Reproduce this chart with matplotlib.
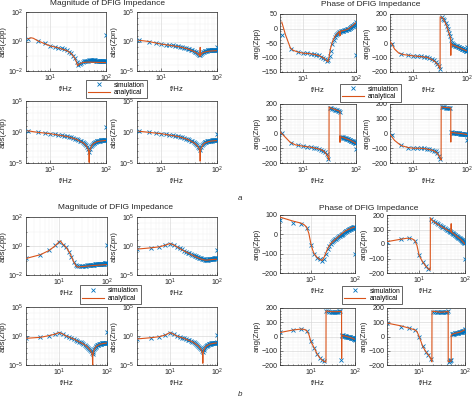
import numpy as np
import matplotlib
matplotlib.use("Agg")
import matplotlib.pyplot as plt
from matplotlib.lines import Line2D
from matplotlib.ticker import LogLocator, NullFormatter, AutoMinorLocator

plt.rcParams['font.family'] = ['Liberation Sans', 'DejaVu Sans']
plt.rcParams['mathtext.fontset'] = 'custom'
plt.rcParams['mathtext.rm'] = 'Liberation Sans'
plt.rcParams['mathtext.it'] = 'Liberation Sans:italic'
plt.rcParams['mathtext.default'] = 'regular'

# ---------------- frequency grids (Hz) ----------------
f_a = [4, 6, 8, 10, 12, 14, 16, 18, 20, 22,
       24, 26, 28, 30, 32, 34, 36, 38, 40, 42,
       44, 46, 48, 50, 52, 54, 56, 58, 60, 62,
       64, 66, 68, 70, 72, 74, 76, 78, 80, 82,
       84, 86, 88, 90, 92, 94, 96, 98, 100]
f_b = [2, 4, 6, 8, 10, 12, 14, 16, 18, 20,
       22, 24, 26, 28, 30, 32, 34, 36, 38, 40,
       42, 44, 46, 48, 50, 52, 54, 56, 58, 60,
       62, 64, 66, 68, 70, 72, 74, 76, 78, 80,
       82, 84, 86, 88, 90, 92, 94, 96, 98, 100]

# ---------------- case a: magnitude (log10 of |Z|) ----------------
a_mag_zpp_sim = [0.19, 0.05, -0.12, -0.28, -0.35, -0.41, -0.47, -0.53, -0.6, -0.69,
                 -0.8, -0.95, -1.15, -1.42, -1.6, -1.5, -1.43, -1.38, -1.35, -1.33,
                 -1.31, -1.3, -1.29, -1.28, -1.28, -1.27, -1.27, -1.27, -1.28, -1.28,
                 -1.28, -1.29, -1.29, -1.29, -1.3, -1.3, -1.3, -1.31, -1.31, -1.31,
                 -1.32, -1.32, -1.32, -1.33, -1.33, -1.33, -1.34, -1.34, 0.46]
a_mag_zpp_ana_f = [4, 4.6, 5, 6, 8, 10, 14, 20, 24, 28, 30, 31, 32, 34, 38, 45, 50, 60, 80, 100]
a_mag_zpp_ana = [0.19, 0.25, 0.22, 0.05, -0.15, -0.3, -0.43, -0.62, -0.82, -1.17,
                 -1.45, -1.65, -1.58, -1.5, -1.43, -1.4, -1.4, -1.41, -1.42, -1.43]

a_mag_zpn_sim = [0.17, 0.0, -0.25, -0.44, -0.52, -0.6, -0.67, -0.75, -0.83, -0.9,
                 -0.97, -1.05, -1.13, -1.22, -1.3, -1.4, -1.5, -1.6, -1.7, -1.82,
                 -1.95, -2.1, -2.25, -2.3, -2.05, -1.9, -1.8, -1.72, -1.66, -1.62,
                 -1.58, -1.55, -1.52, -1.5, -1.48, -1.46, -1.45, -1.44, -1.43, -1.42,
                 -1.41, -1.4, -1.4, -1.39, -1.38, -1.38, -1.37, -1.37, -1.0]
a_mag_notch_f = [4, 5, 6, 10, 20, 30, 40, 45, 48, 49.5, 50, 50.5, 52, 56, 60, 70, 80, 100]
a_mag_zpn_ana = [0.2, 0.1, 0.0, -0.44, -0.85, -1.25, -1.75, -2.05, -2.3, -2.5,
                 -1.0, -2.4, -2.15, -1.9, -1.8, -1.65, -1.6, -1.55]

a_mag_znp_sim = [0.16, -0.05, -0.17, -0.27, -0.35, -0.43, -0.52, -0.6, -0.7, -0.78,
                 -0.87, -0.97, -1.07, -1.18, -1.29, -1.4, -1.52, -1.64, -1.78, -1.95,
                 -2.15, -2.4, -2.75, -3.2, -2.7, -2.3, -2.05, -1.9, -1.78, -1.7,
                 -1.63, -1.57, -1.52, -1.48, -1.45, -1.42, -1.4, -1.38, -1.36, -1.34,
                 -1.33, -1.31, -1.3, -1.29, -1.28, -1.27, -1.26, -1.25, 0.8]
a_mag_znp_ana = [0.2, 0.05, -0.05, -0.27, -0.72, -1.2, -1.82, -2.3, -2.8, -3.5,
                 -4.9, -3.4, -2.8, -2.15, -1.85, -1.55, -1.45, -1.35]

a_mag_znn_sim = [0.1, -0.05, -0.17, -0.27, -0.35, -0.43, -0.52, -0.6, -0.7, -0.78,
                 -0.87, -0.97, -1.07, -1.18, -1.29, -1.4, -1.52, -1.64, -1.78, -1.93,
                 -2.1, -2.35, -2.6, -2.9, -2.4, -2.1, -1.9, -1.78, -1.68, -1.62,
                 -1.57, -1.53, -1.5, -1.47, -1.45, -1.43, -1.41, -1.39, -1.38, -1.37,
                 -1.36, -1.35, -1.34, -1.33, -1.32, -1.31, -1.3, -1.3, -0.27]
a_mag_znn_ana = [0.12, 0.03, -0.05, -0.27, -0.72, -1.2, -1.82, -2.25, -2.65, -3.3,
                 -4.7, -3.2, -2.6, -2.05, -1.8, -1.55, -1.45, -1.38]

# ---------------- case a: phase (deg) ----------------
a_ph_zpp_sim = [-21, -71, -81, -85, -86, -87, -88, -91, -93, -97,
                -100, -105, -112, -110, -95, -78, -55, -40, -28, -22,
                -18, -15, -13, -11, -10, -9, -8, -7, -6, -6,
                -5, -4, -3, -2, -1, 0, 2, 3, 5, 6,
                8, 9, 10, 12, 13, 15, 17, 24, -91]
a_ph_zpp_ana_f = [4, 4.7, 5.8, 6.5, 8, 10, 14, 18, 22, 26, 28, 29.5, 31, 33, 36, 40, 46,
                  49.5, 50, 50.5, 56, 64, 72, 84, 100]
a_ph_zpp_ana = [22, -22, -67, -75, -81, -85, -87, -91, -97, -105, -111, -115, -100, -70, -45,
                -27, -15, -10, -25, -9, -8, -5, -1, 8, 20]

a_ph_zpn_sim = [-10, -75, -84, -89, -91, -93, -96, -99, -104, -111,
                -120, -130, -145, -160, -176, 178, 168, 160, 140, 118,
                95, 70, 48, 20, -3, -8, -12, -15, -18, -20,
                -22, -24, -26, -28, -30, -32, -34, -36, -38, -40,
                -42, -44, -46, -48, -50, -52, -54, -56, -30]
a_ph_zpn_ana_f = [3.7, 4, 4.5, 5.4, 6.6, 10, 14, 18, 20, 22, 24, 26, 28, 30, 31.6, 31.7, 34,
                  36.5, 42, 45, 48.7, 49.8, 50, 50.2, 52, 60, 70, 80, 100]
a_ph_zpn_ana = [8, -5, -42, -70, -80, -89, -94, -99, -106, -113, -122, -132, -146, -160, -180,
                180, 178, 166, 118, 82, 42, 30, -85, -5, -10, -20, -30, -40, -55]

a_ph_znp_sim = [5, -62, -78, -86, -89, -93, -96, -100, -105, -110,
                -116, -126, -142, -170, 176, 172, 168, 165, 162, 160,
                157, 154, 151, 148, -22, -24, -26, -28, -30, -32,
                -33, -35, -37, -38, -40, -42, -44, -46, -48, -50,
                -52, -54, -56, -58, -60, -62, -64, -66, -105]
a_ph_znp_ana_f = [3.7, 4.6, 5.7, 7.2, 10, 14, 20, 24, 26, 28, 30, 31, 31.1, 34, 40, 46,
                  49.9, 50, 50.1, 52, 60, 80, 100]
a_ph_znp_ana = [12, -23, -58, -77, -86, -93, -105, -116, -128, -144, -165, -180, 180, 172, 163,
                155, 150, -60, -20, -23, -30, -48, -68]

a_ph_znn_sim = [-10, -80, -95, -100, -100, -100, -101, -104, -108, -112,
                -116, -122, -132, -150, -172, 178, 177, 177, 176, 176,
                175, 175, 174, 10, 8, 6, 5, 4, 4, 3,
                3, 2, 2, 1, 1, 0, 0, -1, -1, -2,
                -2, -3, -3, -4, -4, -5, -6, -7, -45]
a_ph_znn_ana_f = [3.7, 4.5, 5.9, 8, 10, 14, 18, 20, 24, 28, 30, 32, 33, 33.1, 40, 49.9, 50,
                  50.1, 60, 80, 100]
a_ph_znn_ana = [-5, -47, -81, -95, -100, -100, -105, -109, -116, -133, -151, -172, -180, 180,
                176, 174, -58, 8, 4, -1, -7]

# ---------------- case b: magnitude (log10 of |Z|) ----------------
b_mag_zpp_sim = [-0.86, -0.6, -0.3, 0.05, 0.3, 0.1, -0.1, -0.4, -0.74, -1.09,
                 -1.31, -1.4, -1.4, -1.39, -1.38, -1.37, -1.36, -1.35, -1.34, -1.33,
                 -1.32, -1.31, -1.3, -1.3, -1.29, -1.28, -1.28, -1.27, -1.27, -1.26,
                 -1.26, -1.25, -1.25, -1.24, -1.24, -1.23, -1.23, -1.23, -1.22, -1.22,
                 -1.22, -1.21, -1.21, -1.21, -1.2, -1.2, -1.2, -1.2, -1.19, 0.1]
b_mag_zpp_ana_f = [2, 4, 6, 8, 9, 10, 10.5, 12, 14, 16, 18, 20, 22, 24, 30, 50, 100]
b_mag_zpp_ana = [-0.86, -0.6, -0.32, -0.02, 0.15, 0.3, 0.35, 0.1, -0.1, -0.4, -0.74, -1.09,
                 -1.33, -1.45, -1.42, -1.35, -1.28]

b_mag_zpn_sim = [-0.54, -0.31, -0.14, 0.14, 0.43, 0.2, -0.1, -0.35, -0.6, -0.8,
                 -0.98, -1.13, -1.27, -1.4, -1.52, -1.62, -1.7, -1.78, -1.86, -1.93,
                 -2.0, -2.06, -2.12, -2.18, -2.24, -2.28, -2.32, -2.34, -2.35, -2.35,
                 -2.34, -2.33, -2.31, -2.29, -2.27, -2.25, -2.23, -2.21, -2.2, -2.19,
                 -2.18, -2.17, -2.16, -2.15, -2.14, -2.13, -2.12, -2.11, -2.1, -0.71]
b_mag_zpn_ana_f = [2, 4, 6, 8, 10, 12, 14, 16, 20, 24, 30, 40, 50, 58, 70, 80, 100]
b_mag_zpn_ana = [-0.54, -0.31, -0.14, 0.14, 0.43, 0.18, -0.12, -0.4, -0.85, -1.17, -1.57,
                 -2.05, -2.35, -2.45, -2.38, -2.33, -2.28]

b_mag_znp_sim = [-0.4, -0.23, 0.06, 0.3, 0.6, 0.3, 0.0, -0.17, -0.34, -0.51,
                 -0.68, -0.86, -0.99, -1.12, -1.26, -1.39, -1.52, -1.66, -1.82, -2.0,
                 -2.18, -2.38, -2.6, -2.86, -3.1, -2.7, -2.25, -2.0, -1.84, -1.7,
                 -1.62, -1.55, -1.49, -1.44, -1.4, -1.37, -1.34, -1.31, -1.29, -1.27,
                 -1.25, -1.23, -1.21, -1.2, -1.18, -1.17, -1.16, -1.15, -1.14, 0.74]
b_mag_znp_ana_f = [2, 4, 6, 8, 10, 12, 14, 20, 24, 30, 36, 40, 44, 48, 49.5, 50, 50.5, 52,
                   54, 58, 60, 70, 80, 100]
b_mag_znp_ana = [-0.4, -0.23, 0.06, 0.3, 0.6, 0.3, 0.0, -0.51, -0.86, -1.26, -1.66, -2.0,
                 -2.4, -2.9, -3.6, -5.0, -3.5, -2.75, -2.3, -1.9, -1.75, -1.45, -1.32, -1.2]

b_mag_znn_sim = [-0.51, -0.29, -0.11, 0.17, 0.6, 0.3, 0.0, -0.13, -0.27, -0.4,
                 -0.52, -0.64, -0.76, -0.87, -0.98, -1.1, -1.22, -1.36, -1.5, -1.66,
                 -1.83, -2.02, -2.25, -2.5, -2.7, -2.35, -2.1, -1.88, -1.75, -1.65,
                 -1.57, -1.5, -1.45, -1.4, -1.36, -1.33, -1.3, -1.28, -1.26, -1.24,
                 -1.22, -1.2, -1.19, -1.18, -1.16, -1.15, -1.14, -1.13, -1.12, 0.17]
b_mag_znn_ana_f = [2, 4, 6, 8, 10, 12, 14, 20, 30, 40, 46, 49.5, 50, 50.5, 52, 56, 60, 70,
                   80, 100]
b_mag_znn_ana = [-0.51, -0.29, -0.11, 0.17, 0.6, 0.3, 0.0, -0.42, -1.0, -1.7, -2.3, -3.2,
                 -4.7, -3.1, -2.45, -1.95, -1.72, -1.42, -1.3, -1.18]

# ---------------- case b: phase (deg) ----------------
b_ph_zpp_sim = [72, 58, 51, 34, -56, -103, -120, -130, -140, -125,
                -100, -78, -62, -50, -41, -35, -30, -26, -22, -18,
                -15, -11, -8, -5, -2, 1, 4, 7, 10, 13,
                15, 17, 19, 21, 23, 24, 26, 27, 28, 30,
                31, 32, 33, 34, 35, 36, 37, 37, 38, -103]
b_ph_zpp_ana_f = [2, 4, 6, 7, 8, 9, 10, 11, 12, 14, 16, 18, 20, 24, 28, 40, 50, 60, 80, 100]
b_ph_zpp_ana = [89, 68, 58, 50, 38, 5, -48, -82, -103, -120, -130, -135, -118, -74, -48,
                -17, 3, 17, 31, 38]

b_ph_zpn_sim = [16, 33, 38, 24, -78, -125, -153, -172, 172, 158,
                150, 143, 137, 130, 124, 119, 114, 109, 104, 100,
                96, 92, 88, 85, 82, 78, 75, 71, 67, 64,
                60, 57, 53, 50, 47, 44, 41, 38, 35, 33,
                30, 27, 25, 22, 19, 16, 13, 10, 6, -100]
b_ph_zpn_ana_f = [2, 4, 5.5, 7, 8, 9, 10, 12, 14, 16, 17.5, 17.6, 20, 24, 30, 40, 49.5, 50,
                  50.5, 60, 70, 80, 90, 100]
b_ph_zpn_ana = [16, 33, 40, 36, 25, -10, -78, -125, -153, -172, -180, 180, 158, 141, 122, 99,
                84, 140, 82, 64, 47, 33, 16, 0]

b_ph_znp_sim = [30, 46, 52, 40, -35, -82, -125, -150, -165, -175,
                178, 176, 175, 174, 174, 173, 173, 173, 174, 174,
                175, 176, 177, -165, 5, 10, 8, 6, 4, 2,
                1, 0, -1, -2, -3, -4, -5, -6, -7, -8,
                -9, -10, -11, -12, -13, -14, -15, -17, -19, -22]
b_ph_znp_ana_f = [2, 4, 6, 7, 8, 9, 10, 12, 14, 16, 18, 20, 22, 22.1, 30, 40, 49.6, 49.8,
                  50.2, 52, 60, 80, 100]
b_ph_znp_ana = [28, 46, 52, 50, 42, 15, -35, -82, -125, -150, -165, -175, -180, 180, 174,
                174, 177, -155, 8, 8, 2, -8, -20]

b_ph_znn_sim = [95, 70, 58, 45, 0, -70, -106, -130, -160, 175,
                172, 171, 170, 170, 170, 171, 171, 172, 173, 174,
                176, -178, -172, -168, -165, 15, 18, 20, 21, 22,
                23, 24, 25, 26, 27, 28, 29, 30, 31, 32,
                33, 34, 35, 36, 37, 38, 40, 42, 45, 55]
b_ph_znn_ana_f = [2, 4, 6, 8, 9, 10, 11, 12, 14, 16, 18, 19, 19.1, 30, 40, 43, 43.1, 50,
                  50.1, 60, 80, 100]
b_ph_znn_ana = [94, 75, 59, 47, 35, 0, -35, -70, -106, -130, -155, -178, 178, 170, 174, 178,
                -178, -172, 12, 22, 32, 48]

# ---------------- text ----------------
title_mag = "Magnitude of DFIG Impedance"
title_ph = "Phase of DFIG Impedance"
legend_labels = ["simulation", "analytical"]
names = ["Zpp", "Zpn", "Znp", "Znn"]

# ---------------- styling ----------------
W, H = 474, 399
BLUE = "#0072BD"
ORANGE = "#D95319"
TXT = "#262626"
fig = plt.figure(figsize=(W / 100, H / 100), dpi=100)
fig.patch.set_facecolor("white")


def rect(x0, y0, x1, y1):
    return [x0 / W, 1 - y1 / H, (x1 - x0) / W, (y1 - y0) / H]


def make_axis(box, fs, sim, fa, ana, ylabel, kind, ylim, yticks, xlim):
    ax = fig.add_axes(rect(*box))
    if kind == "mag":
        ax.plot(fs, 10.0 ** np.asarray(sim), ls="none", marker="x", ms=3.5, mew=0.6,
                color=BLUE, zorder=3)
        ax.plot(fa, 10.0 ** np.asarray(ana), color=ORANGE, lw=0.8, zorder=4)
        ax.set_yscale("log")
        ax.set_ylim(10.0 ** ylim[0], 10.0 ** ylim[1])
        ax.set_yticks([10.0 ** t for t in yticks])
        ax.yaxis.set_minor_locator(LogLocator(base=10, subs=(1.0,), numticks=30))
        ax.yaxis.set_minor_formatter(NullFormatter())
    else:
        ax.plot(fs, sim, ls="none", marker="x", ms=3.5, mew=0.6, color=BLUE, zorder=3)
        ax.plot(fa, ana, color=ORANGE, lw=0.8, zorder=4)
        ax.set_ylim(*ylim)
        ax.set_yticks(yticks)
        ax.yaxis.set_minor_locator(AutoMinorLocator(5))
    ax.set_xscale("log")
    ax.set_xlim(*xlim)
    ax.set_xticks([10, 100])
    ax.xaxis.set_minor_locator(LogLocator(base=10, subs=np.arange(2, 10), numticks=30))
    ax.xaxis.set_minor_formatter(NullFormatter())
    ax.grid(True, which="major", color="#d6d6d6", lw=0.45)
    ax.grid(True, which="minor", color="#e4e4e4", lw=0.35, ls=(0, (1, 1)))
    ax.set_axisbelow(True)
    ax.tick_params(which="both", direction="in", labelsize=5.1, pad=1.5, width=0.4,
                   colors=TXT)
    ax.tick_params(which="major", length=2)
    ax.tick_params(which="minor", length=1)
    for s in ax.spines.values():
        s.set_linewidth(0.5)
        s.set_color(TXT)
    ax.set_xlabel("f/Hz", fontsize=5.6, labelpad=1.3, color=TXT)
    ax.set_ylabel(ylabel, fontsize=5.6, labelpad=1, color=TXT)
    return ax


def add_legend(cx, cy):
    handles = [Line2D([], [], ls="none", marker="x", ms=3.5, mew=0.6, color=BLUE),
               Line2D([], [], color=ORANGE, lw=0.8)]
    leg = fig.legend(handles, legend_labels, loc="center",
                     bbox_to_anchor=(cx / W, 1 - cy / H), fontsize=4.9, frameon=True,
                     fancybox=False, edgecolor=TXT, framealpha=1,
                     borderpad=0.3, labelspacing=0.12, handlelength=3.2,
                     handletextpad=0.6, borderaxespad=0)
    leg.get_frame().set_linewidth(0.5)


xlim_a = (3.7, 100)
xlim_b = (2, 100)

# case a magnitude
a_mag_boxes = [(26, 12, 106, 71), (137, 12, 217, 71), (26, 101, 106, 163), (137, 101, 217, 163)]
a_mag_sims = [a_mag_zpp_sim, a_mag_zpn_sim, a_mag_znp_sim, a_mag_znn_sim]
a_mag_anaf = [a_mag_zpp_ana_f, a_mag_notch_f, a_mag_notch_f, a_mag_notch_f]
a_mag_anas = [a_mag_zpp_ana, a_mag_zpn_ana, a_mag_znp_ana, a_mag_znn_ana]
for i in range(4):
    lim = (-2, 2) if i == 0 else (-5, 5)
    ticks = [-2, 0, 2] if i == 0 else [-5, 0, 5]
    make_axis(a_mag_boxes[i], f_a, a_mag_sims[i], a_mag_anaf[i], a_mag_anas[i],
              "abs(%s)" % names[i], "mag", lim, ticks, xlim_a)

# case a phase
a_ph_boxes = [(280, 14, 356, 72), (390, 14, 467, 72), (280, 104, 356, 163), (390, 104, 467, 163)]
a_ph_sims = [a_ph_zpp_sim, a_ph_zpn_sim, a_ph_znp_sim, a_ph_znn_sim]
a_ph_anaf = [a_ph_zpp_ana_f, a_ph_zpn_ana_f, a_ph_znp_ana_f, a_ph_znn_ana_f]
a_ph_anas = [a_ph_zpp_ana, a_ph_zpn_ana, a_ph_znp_ana, a_ph_znn_ana]
for i in range(4):
    lim = (-150, 50) if i == 0 else (-200, 200)
    ticks = [-150, -100, -50, 0, 50] if i == 0 else [-200, -100, 0, 100, 200]
    make_axis(a_ph_boxes[i], f_a, a_ph_sims[i], a_ph_anaf[i], a_ph_anas[i],
              "ang(%s)" % names[i], "ph", lim, ticks, xlim_a)

# case b magnitude
b_mag_boxes = [(26, 217, 107, 275), (137, 217, 217, 275), (26, 307, 107, 365), (137, 307, 217, 365)]
b_mag_sims = [b_mag_zpp_sim, b_mag_zpn_sim, b_mag_znp_sim, b_mag_znn_sim]
b_mag_anaf = [b_mag_zpp_ana_f, b_mag_zpn_ana_f, b_mag_znp_ana_f, b_mag_znn_ana_f]
b_mag_anas = [b_mag_zpp_ana, b_mag_zpn_ana, b_mag_znp_ana, b_mag_znn_ana]
for i in range(4):
    lim = (-2, 2) if i == 0 else (-5, 5)
    ticks = [-2, 0, 2] if i == 0 else [-5, 0, 5]
    make_axis(b_mag_boxes[i], f_b, b_mag_sims[i], b_mag_anaf[i], b_mag_anas[i],
              "abs(%s)" % names[i], "mag", lim, ticks, xlim_b)

# case b phase
b_ph_boxes = [(280, 215, 355, 273), (387, 215, 465, 273), (280, 308, 355, 365), (387, 308, 465, 365)]
b_ph_sims = [b_ph_zpp_sim, b_ph_zpn_sim, b_ph_znp_sim, b_ph_znn_sim]
b_ph_anaf = [b_ph_zpp_ana_f, b_ph_zpn_ana_f, b_ph_znp_ana_f, b_ph_znn_ana_f]
b_ph_anas = [b_ph_zpp_ana, b_ph_zpn_ana, b_ph_znp_ana, b_ph_znn_ana]
for i in range(4):
    lim = (-200, 100) if i == 0 else (-200, 200)
    ticks = [-200, -100, 0, 100] if i == 0 else [-200, -100, 0, 100, 200]
    make_axis(b_ph_boxes[i], f_b, b_ph_sims[i], b_ph_anaf[i], b_ph_anas[i],
              "ang(%s)" % names[i], "ph", lim, ticks, xlim_b)

# titles
for (cx, cy, txt) in [(108, 3.5, title_mag), (371, 5, title_ph),
                      (116, 207.5, title_mag), (369, 208, title_ph)]:
    fig.text(cx / W, 1 - cy / H, txt, ha="center", va="center", fontsize=6.0, color=TXT)

# legends
add_legend(116.5, 89)
add_legend(370.5, 93)
add_legend(110.5, 294.5)
add_legend(372, 295)

# panel letters
fig.text(240 / W, 1 - 198 / H, "a", ha="center", va="center", fontsize=5.8,
         style="italic", color="#333333")
fig.text(240 / W, 1 - 394 / H, "b", ha="center", va="center", fontsize=5.8,
         style="italic", color="#333333")

fig.savefig("out.png", dpi=100, facecolor="white")
